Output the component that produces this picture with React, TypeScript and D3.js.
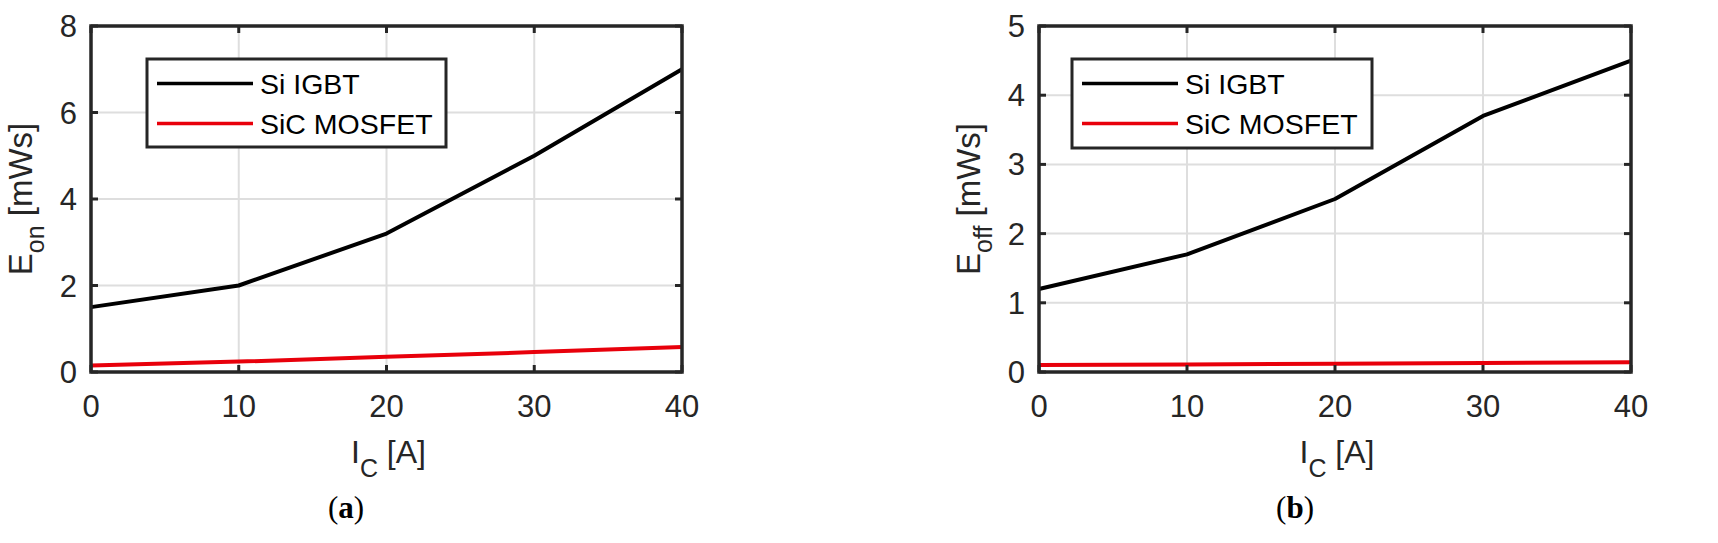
import React, { useEffect, useRef } from 'react';
import * as d3 from 'd3';

// collector current [A]
const X_VALUES = [0, 10, 20, 30, 40];
const X_TICKS = [0, 10, 20, 30, 40];

// (a) turn-on energy [mWs]
const EON_SI_IGBT = [1.5, 2.0, 3.2, 5.0, 7.0];
const EON_SIC_MOSFET = [0.15, 0.24, 0.35, 0.46, 0.58];
const EON_TICKS = [0, 2, 4, 6, 8];

// (b) turn-off energy [mWs]
const EOFF_SI_IGBT = [1.2, 1.7, 2.5, 3.7, 4.5];
const EOFF_SIC_MOSFET = [0.1, 0.11, 0.12, 0.13, 0.14];
const EOFF_TICKS = [0, 1, 2, 3, 4, 5];

const SERIES_NAMES = ['Si IGBT', 'SiC MOSFET'];
const SERIES_COLORS = ['#000000', '#e8000b'];

const AXIS_COLOR = '#262626';
const GRID_COLOR = '#dedede';
const FONT = '"Liberation Sans", Arial, Helvetica, sans-serif';

interface PanelConfig {
  left: number;
  right: number;
  top: number;
  bottom: number;
  yMax: number;
  yTicks: number[];
  series: number[][];
  ySub: string;
  legend: { x: number; y: number; w: number; h: number };
  caption: string;
  captionX: number;
}

function drawPanel(root: d3.Selection<SVGSVGElement, unknown, null, undefined>, cfg: PanelConfig) {
  const g = root.append('g');

  const x = d3.scaleLinear().domain([0, 40]).range([cfg.left, cfg.right]);
  const y = d3.scaleLinear().domain([0, cfg.yMax]).range([cfg.bottom, cfg.top]);

  // grid
  g.selectAll('line.gx')
    .data(X_TICKS)
    .enter()
    .append('line')
    .attr('x1', d => x(d))
    .attr('x2', d => x(d))
    .attr('y1', cfg.top)
    .attr('y2', cfg.bottom)
    .attr('stroke', GRID_COLOR)
    .attr('stroke-width', 2);

  g.selectAll('line.gy')
    .data(cfg.yTicks)
    .enter()
    .append('line')
    .attr('x1', cfg.left)
    .attr('x2', cfg.right)
    .attr('y1', d => y(d))
    .attr('y2', d => y(d))
    .attr('stroke', GRID_COLOR)
    .attr('stroke-width', 2);

  // data lines
  const line = d3.line<number>()
    .x((_, i) => x(X_VALUES[i]))
    .y(d => y(d));

  cfg.series.forEach((values, i) => {
    g.append('path')
      .datum(values)
      .attr('d', line)
      .attr('fill', 'none')
      .attr('stroke', SERIES_COLORS[i])
      .attr('stroke-width', 4)
      .attr('stroke-linejoin', 'round');
  });

  // inner ticks on all sides
  const tl = 7;
  X_TICKS.forEach(t => {
    g.append('line').attr('x1', x(t)).attr('x2', x(t)).attr('y1', cfg.bottom).attr('y2', cfg.bottom - tl)
      .attr('stroke', AXIS_COLOR).attr('stroke-width', 3);
    g.append('line').attr('x1', x(t)).attr('x2', x(t)).attr('y1', cfg.top).attr('y2', cfg.top + tl)
      .attr('stroke', AXIS_COLOR).attr('stroke-width', 3);
  });
  cfg.yTicks.forEach(t => {
    g.append('line').attr('x1', cfg.left).attr('x2', cfg.left + tl).attr('y1', y(t)).attr('y2', y(t))
      .attr('stroke', AXIS_COLOR).attr('stroke-width', 3);
    g.append('line').attr('x1', cfg.right).attr('x2', cfg.right - tl).attr('y1', y(t)).attr('y2', y(t))
      .attr('stroke', AXIS_COLOR).attr('stroke-width', 3);
  });

  // box
  g.append('rect')
    .attr('x', cfg.left)
    .attr('y', cfg.top)
    .attr('width', cfg.right - cfg.left)
    .attr('height', cfg.bottom - cfg.top)
    .attr('fill', 'none')
    .attr('stroke', AXIS_COLOR)
    .attr('stroke-width', 3.5);

  // tick labels
  g.selectAll('text.xt')
    .data(X_TICKS)
    .enter()
    .append('text')
    .attr('x', d => x(d))
    .attr('y', cfg.bottom + 45)
    .attr('text-anchor', 'middle')
    .attr('font-size', 31)
    .attr('font-family', FONT)
    .attr('fill', AXIS_COLOR)
    .text(d => d);

  g.selectAll('text.yt')
    .data(cfg.yTicks)
    .enter()
    .append('text')
    .attr('x', cfg.left - 14)
    .attr('y', d => y(d) + 11)
    .attr('text-anchor', 'end')
    .attr('font-size', 31)
    .attr('font-family', FONT)
    .attr('fill', AXIS_COLOR)
    .text(d => d);

  // x label
  const xl = g.append('text')
    .attr('x', (cfg.left + cfg.right) / 2 + 2)
    .attr('y', cfg.bottom + 91)
    .attr('text-anchor', 'middle')
    .attr('font-size', 32)
    .attr('font-family', FONT)
    .attr('fill', AXIS_COLOR);
  xl.append('tspan').text('I');
  xl.append('tspan').attr('font-size', 25).attr('dy', 14).text('C');
  xl.append('tspan').attr('dy', -14).text('\u00a0[A]');

  // y label
  const yl = g.append('text')
    .attr('transform', `translate(${cfg.left - 59},${(cfg.top + cfg.bottom) / 2}) rotate(-90)`)
    .attr('text-anchor', 'middle')
    .attr('font-size', 33)
    .attr('font-family', FONT)
    .attr('fill', AXIS_COLOR);
  yl.append('tspan').text('E');
  yl.append('tspan').attr('font-size', 25).attr('dy', 12).text(cfg.ySub);
  yl.append('tspan').attr('dy', -12).text('\u00a0[mWs]');

  // legend
  const L = cfg.legend;
  g.append('rect')
    .attr('x', L.x)
    .attr('y', L.y)
    .attr('width', L.w)
    .attr('height', L.h)
    .attr('fill', '#ffffff')
    .attr('stroke', AXIS_COLOR)
    .attr('stroke-width', 3);

  SERIES_NAMES.forEach((name, i) => {
    const ly = L.y + 24.5 + i * 40;
    g.append('line')
      .attr('x1', L.x + 10)
      .attr('x2', L.x + 106)
      .attr('y1', ly)
      .attr('y2', ly)
      .attr('stroke', SERIES_COLORS[i])
      .attr('stroke-width', 3.5);
    g.append('text')
      .attr('x', L.x + 113)
      .attr('y', ly + 10)
      .attr('font-size', 28.5)
      .attr('font-family', FONT)
      .attr('fill', '#000000')
      .text(name);
  });

  // caption
  const cap = g.append('text')
    .attr('x', cfg.captionX)
    .attr('y', 518)
    .attr('text-anchor', 'middle')
    .attr('font-size', 31)
    .attr('font-family', '"Liberation Serif", "DejaVu Serif", serif')
    .attr('fill', '#000000');
  cap.append('tspan').text('(');
  cap.append('tspan').attr('font-weight', 'bold').text(cfg.caption);
  cap.append('tspan').text(')');
}

export default function App() {
  const svgRef = useRef<SVGSVGElement>(null);

  useEffect(() => {
    if (!svgRef.current) return;
    const svg = d3.select(svgRef.current);
    svg.selectAll('*').remove();

    drawPanel(svg, {
      left: 91,
      right: 682,
      top: 26,
      bottom: 372,
      yMax: 8,
      yTicks: EON_TICKS,
      series: [EON_SI_IGBT, EON_SIC_MOSFET],
      ySub: 'on',
      legend: { x: 147, y: 59, w: 299, h: 88 },
      caption: 'a',
      captionX: 346,
    });

    drawPanel(svg, {
      left: 1039,
      right: 1631,
      top: 26,
      bottom: 372,
      yMax: 5,
      yTicks: EOFF_TICKS,
      series: [EOFF_SI_IGBT, EOFF_SIC_MOSFET],
      ySub: 'off',
      legend: { x: 1072, y: 59, w: 300, h: 89 },
      caption: 'b',
      captionX: 1295,
    });
  }, []);

  return (
    <svg
      ref={svgRef}
      width={1718}
      height={543}
      style={{ position: 'absolute', left: 0, top: 0, background: '#ffffff' }}
    />
  );
}
